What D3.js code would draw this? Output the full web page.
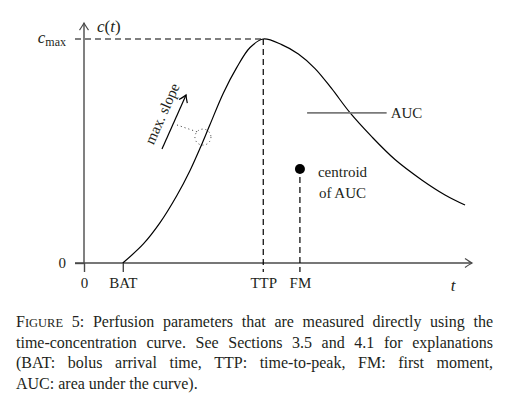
<!DOCTYPE html>
<html>
<head>
<meta charset="utf-8">
<script src="https://cdn.jsdelivr.net/npm/d3@7"></script>
<style>
  body { margin: 0; background: #fff; }
  svg { display: block; }
  text { font-family: "Liberation Serif", "DejaVu Serif", serif; fill: #231f20; }
</style>
</head>
<body>
<div id="chart"></div>
<script>
// curve samples (t in arbitrary units, c normalised to c_max = 1)
const curveT = [2.0, 3.06, 3.92, 4.78, 5.46, 5.98, 6.49, 7.18, 7.87, 8.56, 9.24,
                10.19, 11.05, 11.91, 12.77, 13.71, 14.83, 16.03, 17.41, 18.61, 19.64];
const curveC = [0, 0.085, 0.18, 0.3, 0.412, 0.512, 0.617, 0.758, 0.872, 0.962, 1.0,
                0.975, 0.933, 0.868, 0.778, 0.671, 0.564, 0.462, 0.371, 0.304, 0.259];

// x tick labels and where they sit
const tickNames = ['0', 'BAT', 'TTP', 'FM'];
const tickT = [0, 2.0, 9.24, 11.13];

// annotations
const centroidC = 0.42;
const aucT = [11.5, 15.6];
const aucC = 0.67;
const slopeT = [4.02, 5.26];
const slopeC = [0.509, 0.75];
const slopePointT = 6.13;
const slopePointC = 0.562;

const captionLines = [
    ['F', 'IGURE', ' 5: Perfusion parameters that are measured directly using the'],
    'time-concentration curve. See Sections 3.5 and 4.1 for explanations',
    '(BAT: bolus arrival time, TTP: time-to-peak, FM: first moment,',
    'AUC: area under the curve).'
];

const width = 527, height = 405;
const axisColor = '#4a4a4a';

const svg = d3.select('#chart').append('svg')
    .attr('width', width)
    .attr('height', height);

const x = d3.scaleLinear().domain([0, 20]).range([84, 472]);
const y = d3.scaleLinear().domain([0, 1]).range([263, 39]);

// open arrow head like the tikz "to" tip
function chevron (g, px, py, angle, color) {
    g.append('path')
        .attr('d', 'M-7,-4.5 Q-2,-1 0,0 Q-2,1 -7,4.5')
        .attr('transform', `translate(${px},${py}) rotate(${angle})`)
        .attr('fill', 'none')
        .attr('stroke', color)
        .attr('stroke-width', 1.2);
}

// 坐标轴
const gx = svg.append('g')
    .attr('transform', `translate(0,${y(0)})`)
    .call(d3.axisBottom(x)
        .tickValues(tickT)
        .tickFormat((d, i) => tickNames[i])
        .tickSize(9)
        .tickPadding(5));
gx.select('.domain').remove();
gx.attr('font-family', null).attr('font-size', 15);
gx.selectAll('.tick line')
    .attr('stroke', axisColor)
    .attr('stroke-width', 1.4)
    .filter((d, i) => i >= 2).remove();
gx.selectAll('.tick text').attr('fill', '#231f20');

const gy = svg.append('g')
    .attr('transform', `translate(${x(0)},0)`)
    .call(d3.axisLeft(y)
        .tickValues([0, 1])
        .tickFormat('')
        .tickSize(9)
        .tickPadding(9));
gy.select('.domain').remove();
gy.attr('font-family', null).attr('font-size', 15);
gy.selectAll('.tick line')
    .attr('stroke', axisColor)
    .attr('stroke-width', 1.4)
    .filter(d => d === 1).remove();
gy.selectAll('.tick text').attr('fill', '#231f20').each(function (d) {
    const t = d3.select(this);
    if (d === 0) {
        t.text('0');
    } else {
        t.attr('dy', '0.2em');
        t.append('tspan').attr('font-style', 'italic').attr('font-size', 17).text('c');
        t.append('tspan').attr('font-size', 12).attr('dy', 3).text('max');
    }
});

const axes = svg.append('g');
axes.append('line')
    .attr('x1', x(0) - 9).attr('x2', x(20))
    .attr('y1', y(0)).attr('y2', y(0))
    .attr('stroke', axisColor).attr('stroke-width', 1.4);
axes.append('line')
    .attr('x1', x(0)).attr('x2', x(0))
    .attr('y1', y(0)).attr('y2', y(1.071))
    .attr('stroke', axisColor).attr('stroke-width', 1.4);
chevron(axes, x(20), y(0), 0, axisColor);
chevron(axes, x(0), y(1.071), -90, axisColor);

// c(t) and t labels
const ct = svg.append('text')
    .attr('x', x(0) + 13).attr('y', y(1.071) + 9)
    .attr('font-size', 17);
ct.append('tspan').attr('font-style', 'italic').text('c');
ct.append('tspan').text('(');
ct.append('tspan').attr('font-style', 'italic').text('t');
ct.append('tspan').text(')');

svg.append('text')
    .attr('x', x(18.9)).attr('y', y(0) + 28)
    .attr('font-size', 17)
    .attr('font-style', 'italic')
    .text('t');

// dashed guides
const dash = svg.append('g')
    .attr('stroke', '#000')
    .attr('stroke-width', 1.2)
    .attr('stroke-dasharray', '6,4')
    .attr('fill', 'none');
dash.append('line')
    .attr('x1', x(0) - 9).attr('x2', x(tickT[2]))
    .attr('y1', y(1)).attr('y2', y(1));
dash.append('line')
    .attr('x1', x(tickT[2])).attr('x2', x(tickT[2]))
    .attr('y1', y(1)).attr('y2', y(0) + 9);
dash.append('line')
    .attr('x1', x(tickT[3])).attr('x2', x(tickT[3]))
    .attr('y1', y(centroidC) + 8).attr('y2', y(0) + 9);

// the curve itself
const points = curveT.map((t, i) => [t, curveC[i]]);
const line = d3.line()
    .curve(d3.curveCatmullRom.alpha(0.5))
    .x(d => x(d[0]))
    .y(d => y(d[1]));
svg.append('path')
    .datum(points)
    .attr('d', line)
    .attr('fill', 'none')
    .attr('stroke', '#000')
    .attr('stroke-width', 1.2);

// AUC marker
svg.append('line')
    .attr('x1', x(aucT[0])).attr('x2', x(aucT[1]))
    .attr('y1', y(aucC)).attr('y2', y(aucC))
    .attr('stroke', '#7a7a7a').attr('stroke-width', 1.6);
svg.append('text')
    .attr('x', x(aucT[1]) + 4).attr('y', y(aucC) + 5)
    .attr('font-size', 15)
    .text('AUC');

// centroid
svg.append('circle')
    .attr('cx', x(tickT[3])).attr('cy', y(centroidC))
    .attr('r', 5)
    .attr('fill', '#000');
svg.append('text')
    .attr('x', x(tickT[3]) + 18).attr('y', y(centroidC) + 8)
    .attr('font-size', 15)
    .text('centroid');
svg.append('text')
    .attr('x', x(tickT[3]) + 19).attr('y', y(centroidC) + 29)
    .attr('font-size', 15)
    .text('of AUC');

// max. slope arrow
const sx0 = x(slopeT[0]), sy0 = y(slopeC[0]);
const sx1 = x(slopeT[1]), sy1 = y(slopeC[1]);
const ang = Math.atan2(sy1 - sy0, sx1 - sx0) * 180 / Math.PI;
svg.append('line')
    .attr('x1', sx0).attr('y1', sy0)
    .attr('x2', sx1).attr('y2', sy1)
    .attr('stroke', '#000').attr('stroke-width', 1.2);
chevron(svg, sx1, sy1, ang, '#000');

const len = Math.hypot(sx1 - sx0, sy1 - sy0);
const nx = (sy1 - sy0) / len, ny = -(sx1 - sx0) / len; // normal, up-left side
const mx = (sx0 + sx1) / 2 + nx * 8;
const my = (sy0 + sy1) / 2 + ny * 8 - 3;
svg.append('text')
    .attr('transform', `translate(${mx},${my}) rotate(${ang})`)
    .attr('text-anchor', 'middle')
    .attr('font-size', 15)
    .text('max. slope');

// dotted hint towards the steepest point
const px = x(slopePointT), py = y(slopePointC);
svg.append('line')
    .attr('x1', x(slopeT[0]) + 15).attr('y1', y(slopeC[0]) - 24)
    .attr('x2', px - 5).attr('y2', py - 5)
    .attr('stroke', '#333').attr('stroke-width', 1)
    .attr('stroke-dasharray', '1,3');
svg.append('circle')
    .attr('cx', px).attr('cy', py)
    .attr('r', 8)
    .attr('fill', 'none')
    .attr('stroke', '#333').attr('stroke-width', 1)
    .attr('stroke-dasharray', '1,3');

// caption, justified by stretching word gaps
const capX = 16, capW = 477;
captionLines.forEach((ln, i) => {
    const t = svg.append('text')
        .attr('x', capX)
        .attr('y', 327 + i * 20.7)
        .attr('font-size', 16);
    if (Array.isArray(ln)) {
        t.append('tspan').text(ln[0]);
        t.append('tspan').attr('font-size', 12.5).text(ln[1]);
        t.append('tspan').text(ln[2]);
    } else {
        t.text(ln);
    }
    if (i < captionLines.length - 1) {
        const full = Array.isArray(ln) ? ln.join('') : ln;
        const gaps = full.split(' ').length - 1;
        const natural = t.node().getComputedTextLength();
        t.attr('word-spacing', (capW - natural) / gaps);
    }
});
</script>
</body>
</html>
